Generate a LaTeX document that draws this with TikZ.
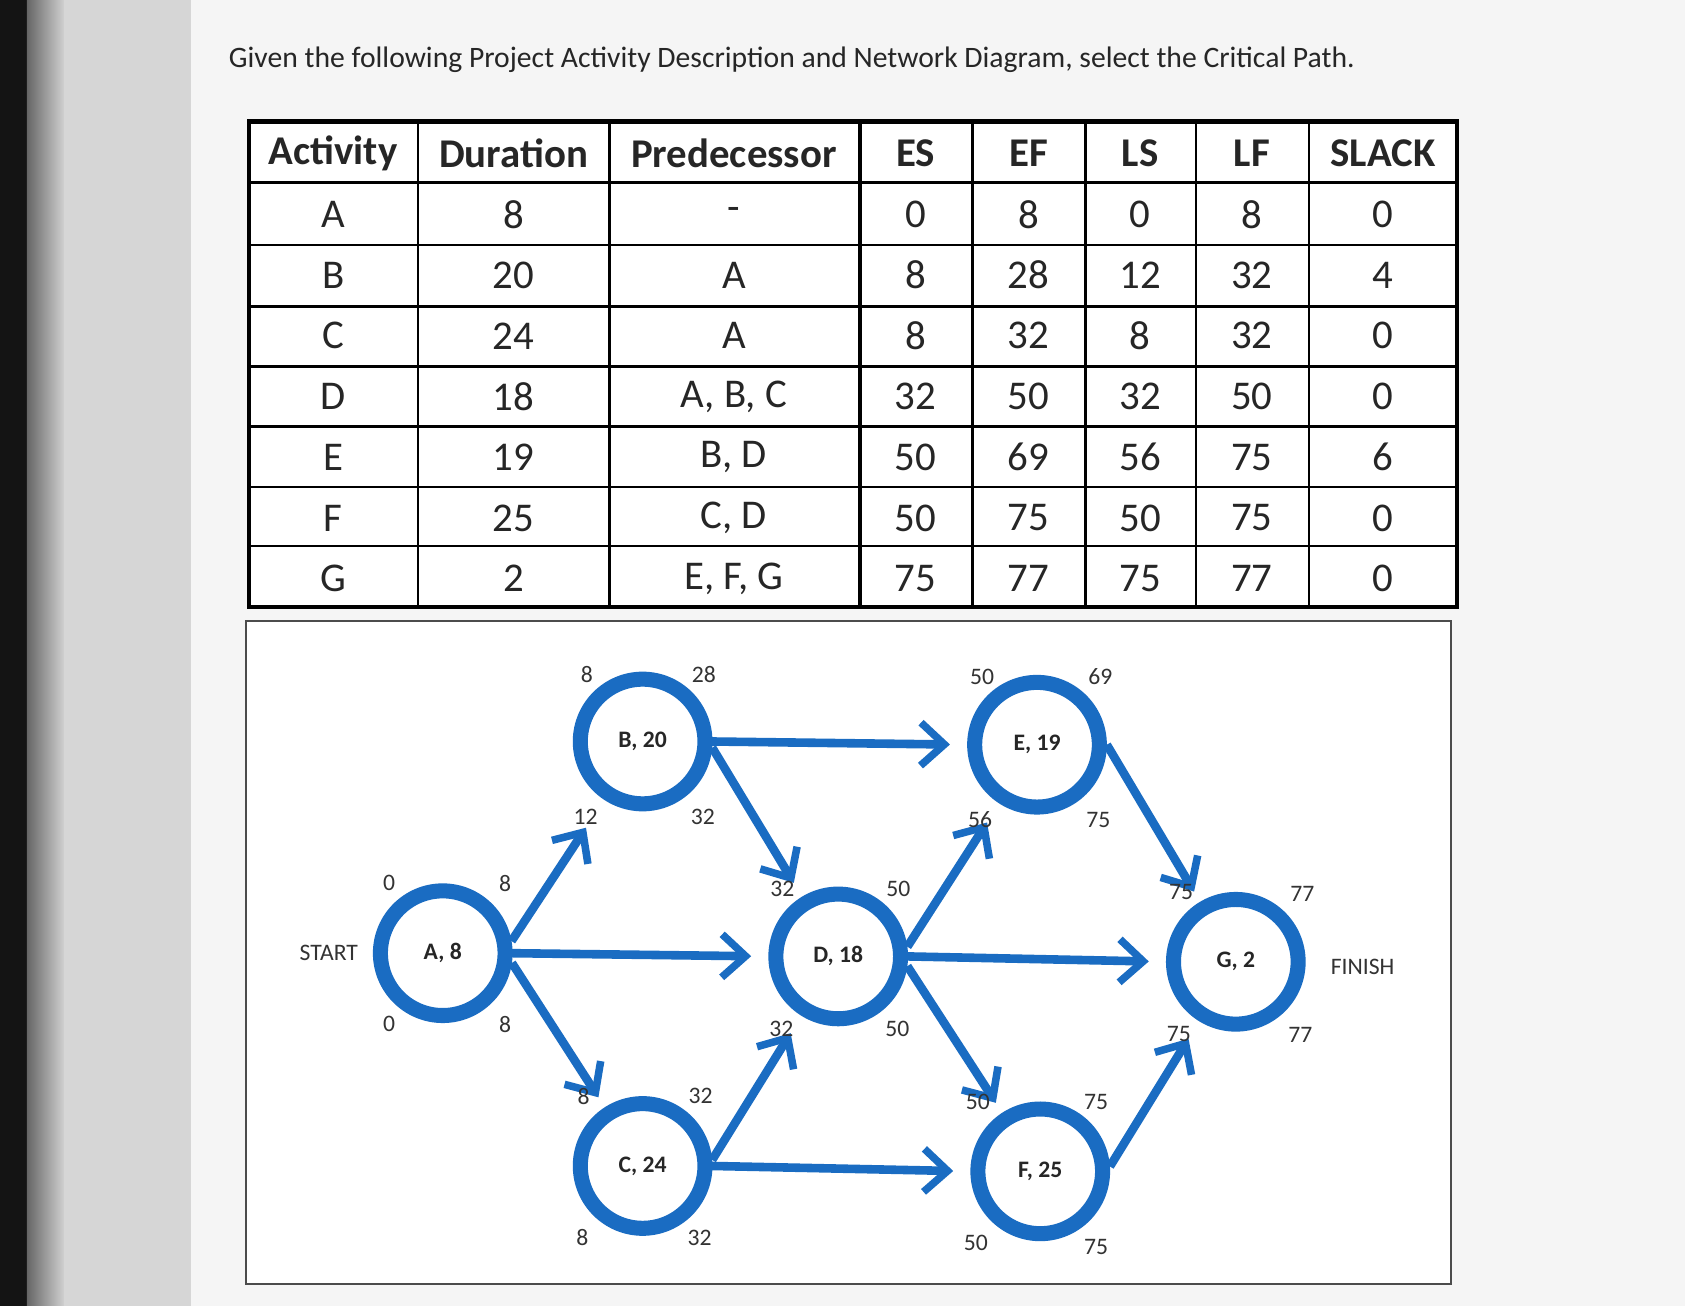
\documentclass[tikz,border=0pt]{standalone}
\usepackage{fontspec}
\setmainfont{Carlito}
\usetikzlibrary{arrows.meta}
\definecolor{nblue}{HTML}{1A6CC2}
\begin{document}
\begin{tikzpicture}[x=0.5pt,y=-0.5pt,
  act/.style={circle,draw=nblue,line width=7pt,minimum size=58pt,inner sep=0pt,font=\fontsize{11}{13}\selectfont\bfseries,text=black!85},
  lab/.style={font=\fontsize{11}{13}\selectfont,text=black!80},
  arr/.style={draw=nblue,line width=4pt,-{Straight Barb[length=11pt,width=20pt,line width=3.5pt]},shorten >=14pt,shorten <=-2pt},
  darr/.style={draw=nblue,line width=4pt,-{Straight Barb[length=11pt,width=20pt,line width=3.5pt]},shorten >=#1,shorten <=0pt},
  cell/.style={font=\fontsize{19}{22}\selectfont,text=black!85},
  hcell/.style={font=\fontsize{19}{22}\selectfont\bfseries,text=black!85}]
\useasboundingbox (0,0) rectangle (1568,1215);
\fill[black!92] (0,0) rectangle (25,1215);
\shade[left color=black!60,right color=black!18] (25,0) rectangle (60,1215);
\fill[black!16] (60,0) rectangle (178,1215);
\fill[black!4] (178,0) rectangle (1568,1215);
\node[anchor=west,font=\fontsize{13.8}{16}\selectfont,text=black!85] (title) at (206,56) {Given the following Project Activity Description and Network Diagram, select the Critical Path.};
% table
\fill[white] (232,113) rectangle (1356,565);
\foreach \y in {170,228,285,341,397,453,508} \draw[line width=1.2pt] (232,\y) -- (1356,\y);
\foreach \x in {389,567,905,1010,1113,1218} \draw[line width=1.2pt] (\x,113) -- (\x,565);
\draw[line width=2pt] (800,113) -- (800,565);
\draw[line width=2pt] (232,113) rectangle (1356,565);
\def\cx{{310,478,683,852,957,1061,1165,1287}}
\foreach \t [count=\i from 0] in {Activity,Duration,Predecessor,ES,EF,LS,LF,SLACK}
  \node[hcell] (h\i) at ({\cx[\i]},143) {\t};
\foreach \r [count=\j] in {{A,8,-,0,8,0,8,0},{B,20,A,8,28,12,32,4},{C,24,A,8,32,8,32,0},{D,18,{A, B, C},32,50,32,50,0},{E,19,{B, D},50,69,56,75,6},{F,25,{C, D},50,75,50,75,0},{G,2,{E, F, G},75,77,75,77,0}}{
  \foreach \t [count=\i from 0] in \r
    \node[cell] (c\j-\i) at ({\cx[\i]},{143+56.5*\j}) {\t};
}
% diagram
\draw[black!70,line width=1pt,fill=white] (229,578) rectangle (1350,1195);
\node[act] (A) at (412,887) {A, 8};
\node[act] (B) at (598,690) {B, 20};
\node[act] (C) at (598,1085) {C, 24};
\node[act] (D) at (780,890) {D, 18};
\node[act] (E) at (965,693) {E, 19};
\node[act] (F) at (968,1090) {F, 25};
\node[act] (G) at (1150,895) {G, 2};
\draw[darr=48pt] (A.10) -- (B.center);
\draw[arr,shorten >=8pt] (A.east) -- (D.west);
\draw[darr=38pt] (A.-8) -- (C.center);
\draw[arr,shorten >=8pt] (B.east) -- (E.west);
\draw[darr=40pt] (B.-5) -- (D.center);
\draw[darr=42pt] (C.5) -- (D.center);
\draw[arr,shorten >=8pt] (C.east) -- (F.west);
\draw[darr=43pt] (D.8) -- (E.center);
\draw[arr,shorten >=8pt] (D.east) -- (G.west);
\draw[darr=38pt] (D.-8) -- (F.center);
\draw[darr=38pt] (E.0) -- (G.center);
\draw[darr=42pt] (F.4) -- (G.center);
\node[lab] (st) at (306,887) {START};
\node[lab] (fi) at (1268,900) {FINISH};
\foreach \n/\x/\y/\t in {a1/362/822/0,a2/470/822/8,a3/362/953/0,a4/470/953/8,
 b1/546/628/8,b2/655/628/28,b3/545/760/12,b4/654/760/32,
 c1/543/1020/8,c2/652/1020/32,c3/542/1152/8,c4/651/1152/32,
 d1/728/827/32,d2/836/827/50,d3/727/957/32,d4/835/957/50,
 e1/914/630/50,e2/1024/630/69,e3/912/763/56,e4/1022/763/75,
 f1/910/1025/50,f2/1020/1025/75,f3/908/1157/50,f4/1020/1160/75,
 g1/1099/830/75,g2/1212/832/77,g3/1097/962/75,g4/1210/963/77}
  \node[lab] (\n) at (\x,\y) {\t};
\end{tikzpicture}
\end{document}
